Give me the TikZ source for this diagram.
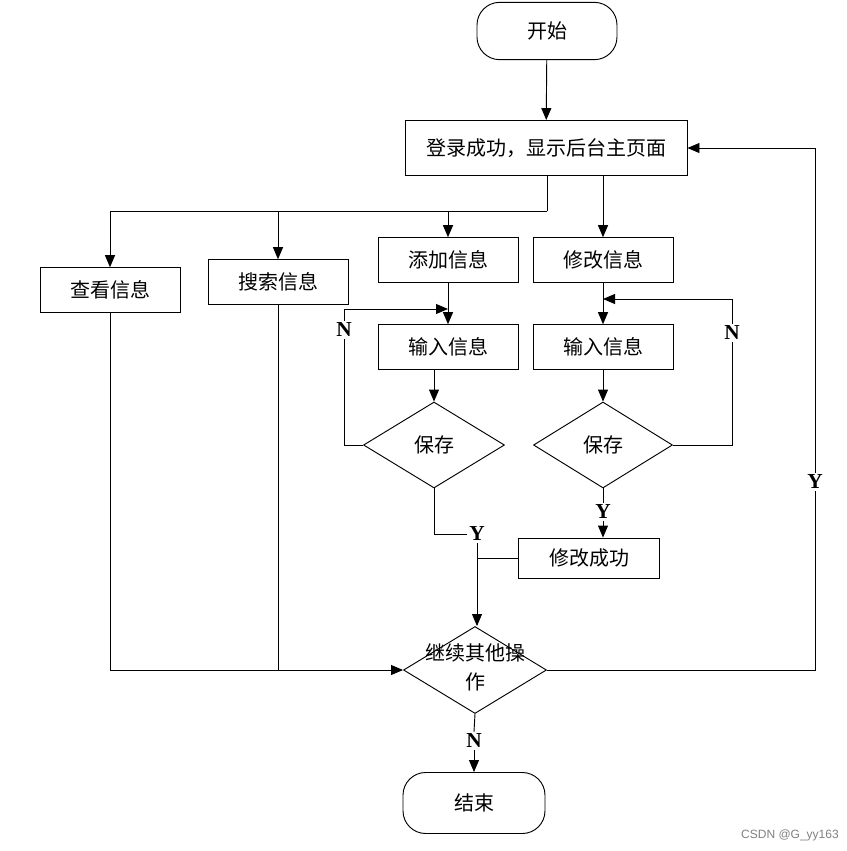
\documentclass[tikz,border=0pt]{standalone}
\usepackage{fontspec}
\setmainfont{Liberation Serif}
\newfontfamily\cjk{Noto Sans CJK SC}
\newfontfamily\wmfont{Liberation Sans}
\usetikzlibrary{shapes.geometric,arrows.meta}

\tikzset{
  box/.style={draw, rectangle, line width=0.7pt, minimum width=105pt, minimum height=33.5pt,
    inner sep=0pt, font=\cjk\fontsize{15}{18}\selectfont},
  term/.style={box, rounded corners=17pt, minimum height=43pt},
  choice/.style={draw, diamond, line width=0.7pt, minimum width=105.75pt, minimum height=64.5pt,
    inner sep=0pt, font=\cjk\fontsize{15}{18}\selectfont},
  flow/.style={line width=0.7pt, -{Triangle[length=9pt,width=7.5pt]}},
  link/.style={line width=0.7pt},
  yn/.style={font=\bfseries\fontsize{16}{18}\selectfont, fill=white, inner sep=1.5pt}
}

\begin{document}
\begin{tikzpicture}[x=0.75pt, y=-0.75pt]
  \useasboundingbox (0,0) rectangle (847,851);

  % Start and home page
  \node[term] (start) at (547,31) {开始};
  \node[box, minimum width=211.5pt, minimum height=41.25pt] (main) at (546,148) {登录成功，显示后台主页面};

  % Menu
  \node[box] (view) at (110,290) {查看信息};
  \node[box] (search) at (278,282) {搜索信息};
  \node[box] (add) at (448,260) {添加信息};
  \node[box] (edit) at (603,260) {修改信息};

  % Input and save
  \node[box] (input1) at (448,347) {输入信息};
  \node[box] (input2) at (603,347) {输入信息};
  \node[choice] (save1) at (434,445) {保存};
  \node[choice, minimum width=104.25pt] (save2) at (603,445) {保存};
  \node[box, minimum width=105.75pt, minimum height=30pt] (done) at (589,558) {修改成功};

  % Continue and end
  \node[choice, minimum width=107.25pt, minimum height=65.25pt] (cont) at (475,670)
    {\makebox[0pt]{\begin{tabular}{@{}c@{}}继续其他操\\[4pt]作\end{tabular}}};
  \node[term, minimum width=106.5pt, minimum height=45.75pt] (end) at (474,803) {结束};

  % Y/N labels
  \node[yn] (n1) at (344,330) {N};
  \node[yn] (n2) at (732,333) {N};
  \node[yn] (y1) at (477,534) {Y};
  \node[yn] (y2) at (603,512) {Y};
  \node[yn] (y3) at (815,482) {Y};
  \node[yn] (n3) at (474,741) {N};
  \coordinate (split) at (547,211);
  \coordinate (back1) at (448,309);
  \coordinate (back2) at (603,299);

  % Connectors
  \draw[flow] (start) -- (main);
  \draw[link] (main.south -| split) -- (split);
  \draw[flow] (split) -| (view.north);
  \draw[flow] (split) -| (search.north);
  \draw[flow] (split) -| (add.north);
  \draw[flow] (main.south -| edit.north) -- (edit.north);

  \draw[flow] (add) -- (input1);
  \draw[flow] (input1.south -| save1.north) -- (save1.north);
  \draw[link] (save1.west) -| (n1.south);
  \draw[flow] (n1.north) |- (back1);

  \draw[flow] (edit) -- (input2);
  \draw[flow] (input2) -- (save2);
  \draw[link] (save2.east) -| (n2.south);
  \draw[flow] (n2.north) |- (back2);

  \draw[link] (save1.south) |- (y1.west);
  \draw[link] (save2.south) -- (y2.north);
  \draw[flow] (y2.south) -- (y2.south |- done.north);
  \draw[link] (done.west) -- (done.west -| y1.south);
  \draw[flow] (y1.south) -- (y1.south |- cont.north);

  \draw[flow] (view.south) |- (cont.west);
  \draw[link] (search.south) -- (search.south |- cont.west);
  \draw[link] (cont.east) -| (y3.south);
  \draw[flow] (y3.north) |- (main.east);
  \draw[link] (cont.south) -- (n3.north);
  \draw[flow] (n3.south) -- (end.north);

  \node[text=gray, font=\wmfont\fontsize{9}{10}\selectfont] (mark) at (790,835) {CSDN @G\_yy163};
\end{tikzpicture}
\end{document}
